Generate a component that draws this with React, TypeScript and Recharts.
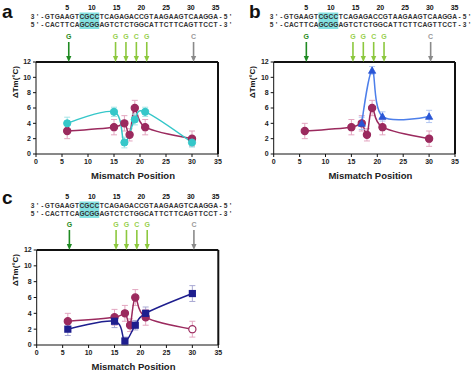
import React from 'react';
import { LineChart, Line, XAxis, YAxis, ErrorBar, ReferenceLine } from 'recharts';

// ---------- data ----------
const maroonPositions = [6, 15, 17, 18, 19, 21, 30];
const maroonValues = [3, 3.5, 4, 2.5, 6, 3.5, 2];
const maroonErrors = [1, 1, 1, 0.8, 1, 1, 1];
const maroonHollowInC = [30];

const cyanPositions = [6, 15, 17, 19, 21, 30];
const cyanValues = [4, 5.5, 1.5, 4.5, 5.5, 1.5];
const cyanErrors = [0.8, 0.6, 0.7, 0.7, 0.6, 0.6];

const bluePositions = [17, 19, 21, 30];
const blueValues = [4, 10.9, 4.9, 4.9];
const blueErrors = [0.8, 0.5, 0.6, 0.8];

const navyPositions = [6, 15, 17, 19, 21, 30];
const navyValues = [2, 3, 0.5, 2.5, 4, 6.5];
const navyErrors = [0.8, 0.8, 0.5, 0.6, 0.8, 1];

const xTicks = [0, 5, 10, 15, 20, 25, 30, 35];
const yTicks = [0, 2, 4, 6, 8, 10, 12];
const seqNumbers = [5, 10, 15, 20, 25, 30, 35];
const strand1 = "3'-GTGAAGTCGCCTCAGAGACCGTAAGAAGTCAAGGA-5'";
const strand2 = "5'-CACTTCAGCGGAGTCTCTGGCATTCTTCAGTTCCT-3'";
const highlightStart = 10; // char index of boxed CGCC / GCGG
const highlightLen = 4;
const arrowPositions = [6.3, 15.3, 17.3, 19.3, 21.3, 30.3];
const arrowLetters = ['G', 'G', 'G', 'C', 'G', 'C'];
const arrowKinds = ['dark', 'light', 'light', 'light', 'light', 'gray'];

// ---------- styles ----------
const FONT = '"Liberation Sans", Arial, sans-serif';
const C = {
  maroon: '#9b2a5e',
  maroonErr: '#e3a6c0',
  cyan: '#35c7c9',
  cyanErr: '#a6e4e6',
  blue: '#4d7fea',
  blueDot: '#2a56d6',
  blueErr: '#b3c7f2',
  navy: '#1e1e8e',
  navyErr: '#a9a9d3',
  dark: '#1f8a22',
  light: '#8cc83e',
  gray: '#8a8a8a',
};

// Catmull-Rom style (cardinal, tension 0) curve factory, like spreadsheet smoothed lines
function makeCardinal(tension: number) {
  const k = (1 - tension) / 6;
  return function (context: any) {
    let x0 = NaN, y0 = NaN, x1 = NaN, y1 = NaN, x2 = NaN, y2 = NaN;
    let pt = 0;
    let line: number = NaN;
    const bez = (x: number, y: number) => {
      context.bezierCurveTo(
        x1 + k * (x2 - x0), y1 + k * (y2 - y0),
        x2 + k * (x1 - x), y2 + k * (y1 - y),
        x2, y2
      );
    };
    return {
      areaStart() { line = 0; },
      areaEnd() { line = NaN; },
      lineStart() { x0 = x1 = x2 = y0 = y1 = y2 = NaN; pt = 0; },
      lineEnd() {
        if (pt === 2) context.lineTo(x2, y2);
        else if (pt === 3) bez(x1, y1);
        if (line || (line !== 0 && pt === 1)) context.closePath();
        line = 1 - line;
      },
      point(x: number, y: number) {
        x = +x; y = +y;
        if (pt === 0) {
          pt = 1;
          if (line) context.lineTo(x, y); else context.moveTo(x, y);
        } else if (pt === 1) {
          pt = 2; x1 = x; y1 = y;
        } else {
          if (pt === 2) pt = 3;
          bez(x, y);
        }
        x0 = x1; x1 = x2; x2 = x;
        y0 = y1; y1 = y2; y2 = y;
      },
    };
  };
}
const smooth: any = makeCardinal(0);

const toData = (xs: number[], ys: number[], es: number[], hollow: number[] = []) =>
  xs.map((x, i) => ({ x, y: ys[i], err: es[i], hollow: hollow.includes(x) }));

const maroonData = toData(maroonPositions, maroonValues, maroonErrors);
const maroonDataC = toData(maroonPositions, maroonValues, maroonErrors, maroonHollowInC);
const cyanData = toData(cyanPositions, cyanValues, cyanErrors);
const blueData = toData(bluePositions, blueValues, blueErrors);
const navyData = toData(navyPositions, navyValues, navyErrors);

// ---------- markers ----------
const maroonDot = (p: any) => {
  const { cx, cy, payload, index } = p;
  if (cx == null || cy == null) return <g key={`m${index}`} />;
  return (
    <circle key={`m${index}`} cx={cx} cy={cy} r={3.6}
      fill={payload && payload.hollow ? '#ffffff' : C.maroon} stroke={C.maroon} strokeWidth={1.2} />
  );
};
const cyanDot = (p: any) => {
  const { cx, cy, index } = p;
  if (cx == null || cy == null) return <g key={`c${index}`} />;
  return <circle key={`c${index}`} cx={cx} cy={cy} r={3.6} fill={C.cyan} stroke={C.cyan} />;
};
const blueDot = (p: any) => {
  const { cx, cy, index } = p;
  if (cx == null || cy == null) return <g key={`b${index}`} />;
  const s = 3.6;
  return (
    <polygon key={`b${index}`}
      points={`${cx},${cy - s} ${cx - s},${cy + s * 0.8} ${cx + s},${cy + s * 0.8}`}
      fill={C.blueDot} stroke={C.blueDot} strokeWidth={0.8} />
  );
};
const navyDot = (p: any) => {
  const { cx, cy, index } = p;
  if (cx == null || cy == null) return <g key={`n${index}`} />;
  return <rect key={`n${index}`} x={cx - 3.6} y={cy - 3.6} width={7.2} height={7.2} fill={C.navy} />;
};

// ---------- arrows (drawn at the sequence positions via the x scale) ----------
const arrowShape = (letter: string, kind: string) => (p: any) => {
  const x = p.x1;
  const top = Math.min(p.y1, p.y2);
  const col = (C as any)[kind];
  const txtCol = kind === 'gray' ? '#9a9a9a' : kind === 'light' ? '#97cf4e' : C.dark;
  return (
    <g>
      <text x={x} y={top - 23.5} textAnchor="middle" fontSize={7} fontWeight="bold" fill={txtCol}
        fontFamily={FONT}>{letter}</text>
      <line x1={x} y1={top - 20} x2={x} y2={top - 5} stroke={col} strokeWidth={1.6} />
      <polygon points={`${x - 2.6},${top - 6} ${x + 2.6},${top - 6} ${x},${top}`} fill={col} />
    </g>
  );
};

// ---------- panel ----------
type Geom = {
  left: number; top: number; plotLeft: number; plotRight: number; plotTop: number; plotBottom: number;
  seqX: number; letterX: number; letterY: number;
};
const PANEL_W = 237;
const PANEL_H = 186;
const YAXIS_W = 26;
const XAXIS_H = 20;
const PITCH = 4.95;

function Overlay({ g, letter }: { g: Geom; letter: string }) {
  const xs = strand1.split('').map((_, i) => (g.seqX + (i + 0.5) * PITCH).toFixed(2)).join(' ');
  const ylx = 15;
  const yly = g.plotTop + 20;
  const plotMid = (g.plotLeft + g.plotRight) / 2 + 6;
  return (
    <svg width={PANEL_W} height={PANEL_H + 6}
      style={{ position: 'absolute', left: 0, top: 0, overflow: 'visible', pointerEvents: 'none' }}>
      <text x={g.letterX} y={g.letterY} fontSize={19} fontWeight="bold" fill="#111" fontFamily={FONT}>{letter}</text>
      <rect x={g.seqX + highlightStart * PITCH} y={12.5} width={highlightLen * PITCH} height={16.5} fill="#84e2e2" />
      {seqNumbers.map((n) => (
        <text key={n} x={g.seqX + (2 + n + 0.5) * PITCH} y={9.5} textAnchor="middle" fontSize={7}
          fontWeight="bold" fill="#111" fontFamily={FONT}>{n}</text>
      ))}
      <text x={xs} y={18.5} textAnchor="middle" fontSize={6.6} fontWeight="bold" fill="#333" fontFamily={FONT}>{strand1}</text>
      <text x={xs} y={26.5} textAnchor="middle" fontSize={6.6} fontWeight="bold" fill="#333" fontFamily={FONT}>{strand2}</text>
      <text x={ylx} y={yly} transform={`rotate(-90 ${ylx} ${yly})`} textAnchor="middle" dominantBaseline="central"
        fontSize={8} fontWeight="bold" fill="#111" fontFamily={FONT}>ΔTm(°C)</text>
      <text x={plotMid} y={g.plotBottom + 25} textAnchor="middle" fontSize={9.5} fontWeight="bold" fill="#222"
        fontFamily={FONT}>Mismatch Position</text>
    </svg>
  );
}

function Panel({ g, letter, children }: { g: Geom; letter: string; children: React.ReactNode }) {
  const margin = {
    top: g.plotTop,
    left: g.plotLeft - YAXIS_W,
    right: PANEL_W - g.plotRight,
    bottom: PANEL_H - g.plotBottom - XAXIS_H,
  };
  const tickStyle = { fontSize: 7, fontWeight: 'bold', fill: '#222' } as any;
  return (
    <div style={{ position: 'absolute', left: g.left, top: g.top, width: PANEL_W, height: PANEL_H }}>
      <LineChart width={PANEL_W} height={PANEL_H} margin={margin}>
        <XAxis dataKey="x" type="number" domain={[0, 35]} ticks={xTicks} interval={0} height={XAXIS_H}
          tick={tickStyle} tickSize={3} tickMargin={2} axisLine={{ stroke: '#111' }} tickLine={{ stroke: '#111' }}
          allowDataOverflow />
        <YAxis type="number" domain={[0, 12]} ticks={yTicks} interval={0} width={YAXIS_W}
          tick={tickStyle} tickSize={3} tickMargin={2} axisLine={{ stroke: '#111' }} tickLine={{ stroke: '#111' }}
          allowDataOverflow />
        <ReferenceLine y={12} stroke="#111" strokeWidth={2} />
        <ReferenceLine x={35} stroke="#111" strokeWidth={2} />
        {arrowPositions.map((ax, i) => (
          <ReferenceLine key={`ar${i}`} x={ax} stroke="none" shape={arrowShape(arrowLetters[i], arrowKinds[i])} />
        ))}
        {children}
      </LineChart>
      <Overlay g={g} letter={letter} />
    </div>
  );
}

const geomA: Geom = { left: 0, top: 0, plotLeft: 36, plotRight: 218, plotTop: 62, plotBottom: 154, seqX: 30, letterX: 2, letterY: 17.5 };
const geomB: Geom = { left: 237, top: 0, plotLeft: 36.7, plotRight: 218, plotTop: 62, plotBottom: 154, seqX: 32, letterX: 12, letterY: 17.5 };
const geomC: Geom = { left: 0, top: 189, plotLeft: 36.7, plotRight: 218.3, plotTop: 61, plotBottom: 156, seqX: 30, letterX: 2, letterY: 14.5 };

const maroonLine = (data: any[], key: string) => (
  <Line key={key} data={data} dataKey="y" type={smooth} stroke={C.maroon} strokeWidth={1.5}
    dot={maroonDot} activeDot={false} isAnimationActive={false}>
    <ErrorBar dataKey="err" direction="y" width={3} stroke={C.maroonErr} strokeWidth={1} />
  </Line>
);

export default function App() {
  return (
    <div style={{
      position: 'absolute', left: 0, top: 0, width: 474, height: 372, background: '#ffffff',
      fontFamily: FONT, overflow: 'hidden',
    }}>
      <Panel g={geomA} letter="a">
        {maroonLine(maroonData, 'ma')}
        <Line data={cyanData} dataKey="y" type={smooth} stroke={C.cyan} strokeWidth={1.5}
          dot={cyanDot} activeDot={false} isAnimationActive={false}>
          <ErrorBar dataKey="err" direction="y" width={3} stroke={C.cyanErr} strokeWidth={1} />
        </Line>
      </Panel>
      <Panel g={geomB} letter="b">
        {maroonLine(maroonData, 'mb')}
        <Line data={blueData} dataKey="y" type={smooth} stroke={C.blue} strokeWidth={1.5}
          dot={blueDot} activeDot={false} isAnimationActive={false}>
          <ErrorBar dataKey="err" direction="y" width={3} stroke={C.blueErr} strokeWidth={1} />
        </Line>
      </Panel>
      <Panel g={geomC} letter="c">
        {maroonLine(maroonDataC, 'mc')}
        <Line data={navyData} dataKey="y" type={smooth} stroke={C.navy} strokeWidth={1.5}
          dot={navyDot} activeDot={false} isAnimationActive={false}>
          <ErrorBar dataKey="err" direction="y" width={3} stroke={C.navyErr} strokeWidth={1} />
        </Line>
      </Panel>
    </div>
  );
}
